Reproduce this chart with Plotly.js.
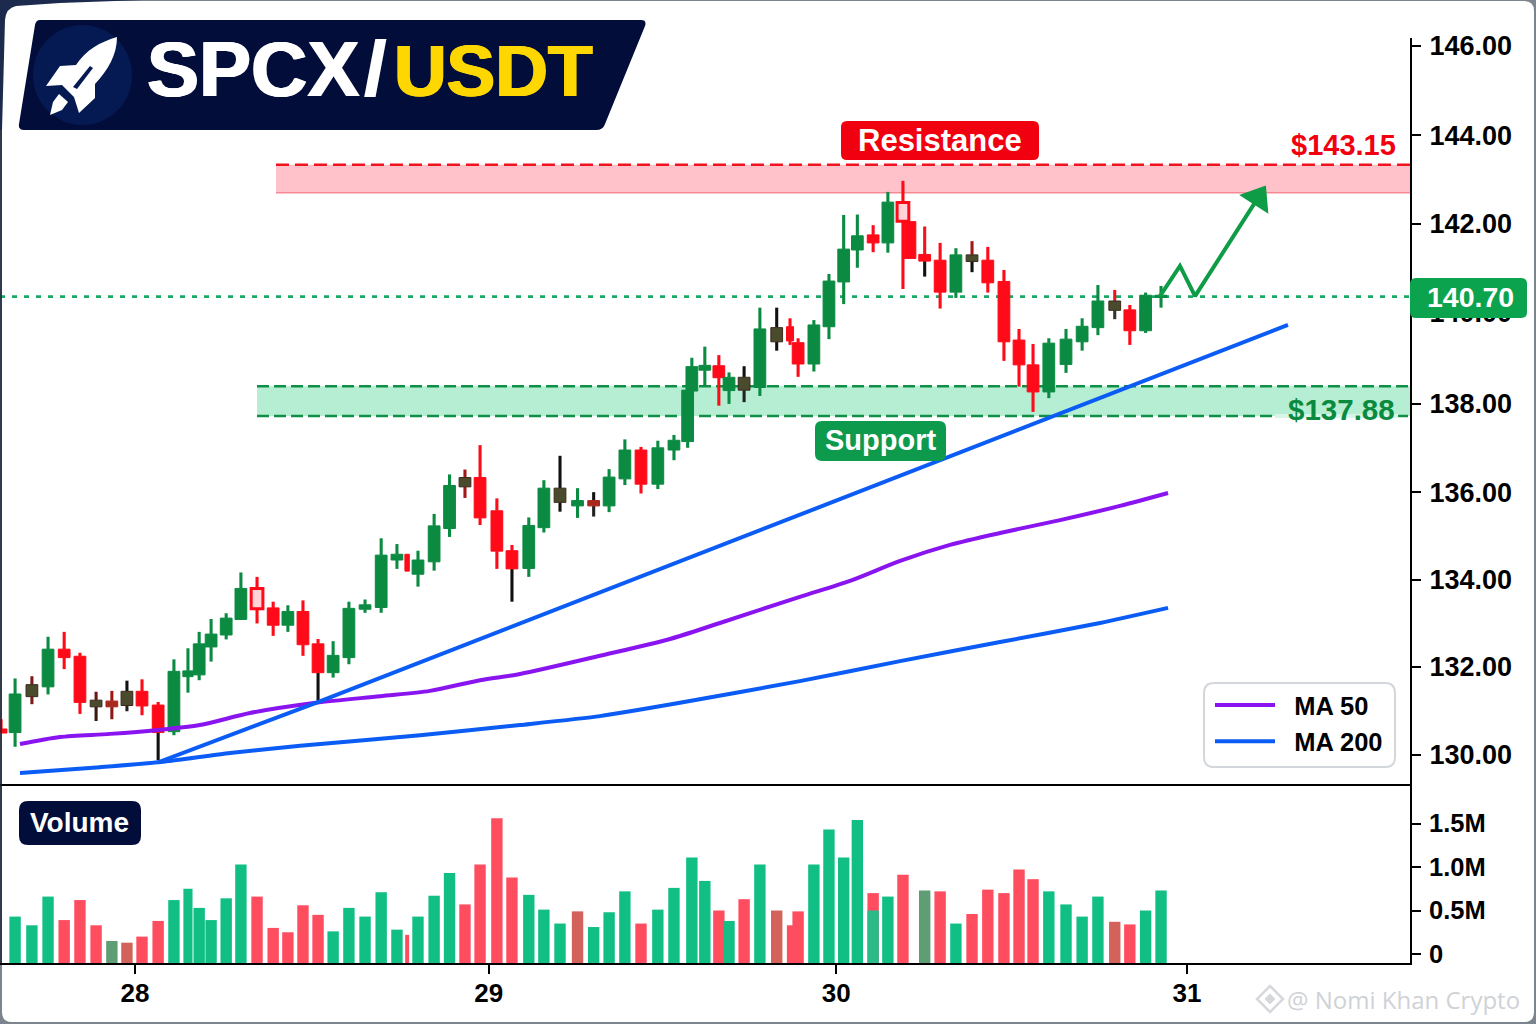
<!DOCTYPE html>
<html><head><meta charset="utf-8">
<script src="https://cdn.plot.ly/plotly-3.0.1.min.js"></script>
<style>html,body{margin:0;padding:0;background:#fff}#c{width:1536px;height:1024px}</style>
</head><body><div id="c"></div>
<script>
// ---- data ----
const candleTime = [27.618,27.658,27.706,27.752,27.798,27.843,27.889,27.934,27.977,28.020,
28.066,28.111,28.151,28.183,28.217,28.260,28.302,28.348,28.394,28.436,
28.479,28.522,28.565,28.610,28.656,28.702,28.747,28.776,28.807,28.853,
28.897,28.941,28.984,29.032,29.075,29.123,29.166,29.212,29.262,29.308,
29.352,29.397,29.443,29.491,29.537,29.576,29.588,29.625,29.665,29.694,
29.737,29.782,29.830,29.868,29.891,29.936,29.979,30.021,30.060,30.105,
30.147,30.190,30.210,30.252,30.296,30.341,30.387,30.432,30.478,30.521,
30.561,30.606,30.655,30.701,30.746,30.794,30.837,30.882,30.926];
const openPrice = [130.61,130.53,131.34,131.56,132.41,132.25,131.26,131.24,131.14,131.46,
131.15,130.55,131.79,131.83,132.46,132.73,133.08,133.78,133.34,132.95,
133.26,132.53,131.88,132.22,133.31,133.35,134.42,134.55,134.10,134.38,
135.13,136.28,136.28,135.53,134.63,134.23,135.15,136.04,135.64,135.76,
135.64,136.25,136.90,136.13,136.90,137.09,138.23,138.70,138.80,138.24,
138.54,138.31,139.66,139.68,139.32,138.84,139.68,140.69,141.41,141.75,
141.57,142.48,142.05,141.31,141.18,140.46,141.30,141.18,140.70,139.38,
138.82,138.21,138.83,139.34,139.66,140.26,140.06,139.59,140.34];
const highPrice = [130.83,131.75,131.80,132.69,132.80,132.33,131.45,131.47,131.70,131.73,
131.22,132.18,132.43,132.80,133.09,133.22,134.14,134.04,133.48,133.40,
133.51,132.64,132.59,133.48,133.53,134.91,134.78,134.55,134.63,135.46,
136.35,136.46,137.01,135.81,134.76,135.38,136.22,136.77,136.04,135.95,
136.47,137.14,136.97,137.11,137.24,138.25,138.98,139.23,139.04,138.65,
138.79,140.11,140.11,139.87,139.42,139.83,140.87,142.20,142.21,141.97,
142.72,142.97,142.05,141.94,141.57,141.45,141.61,141.48,140.96,139.63,
139.29,139.42,139.63,139.87,140.62,140.51,140.17,140.45,140.60];
const lowPrice = [130.52,130.21,131.17,131.39,131.96,130.95,130.79,130.83,131.01,130.92,
129.91,130.47,131.43,131.71,132.13,132.63,133.07,132.99,132.71,132.80,
132.26,131.25,131.77,132.07,133.23,133.23,134.22,134.17,133.82,134.18,
134.94,135.82,135.21,134.22,133.48,134.04,135.04,135.51,135.37,135.40,
135.50,136.11,135.92,136.02,136.67,136.95,138.23,138.33,137.90,137.94,
137.98,138.12,139.14,139.27,138.55,138.67,139.40,140.19,141.01,141.36,
141.35,140.53,141.22,140.81,140.09,140.33,140.91,140.45,138.91,138.33,
137.76,138.07,138.64,139.14,139.49,139.85,139.27,139.54,140.11];
const closePrice = [130.52,131.40,131.61,132.41,132.22,131.21,131.11,131.11,131.46,131.13,
130.53,131.91,131.92,132.53,132.75,133.11,133.78,133.32,132.95,133.26,
132.51,131.88,132.27,133.33,133.41,134.53,134.55,134.17,134.42,135.19,
136.10,136.07,135.37,134.62,134.22,135.20,136.04,135.72,135.76,135.64,
136.29,136.90,136.13,136.95,137.12,138.25,138.78,138.81,138.53,138.54,
138.25,139.63,139.34,139.36,138.84,139.72,140.71,141.43,141.73,141.57,
142.49,142.06,141.22,141.16,140.46,141.30,141.15,140.67,139.34,138.82,
138.21,139.31,139.40,139.69,140.26,140.05,139.59,140.39,140.39];
const volumeM = [null,.43,.33,.66,.39,.62,.33,.15,.13,.20,
.38,.62,.75,.53,.39,.64,1.03,.66,.30,.25,
.56,.45,.26,.53,.43,.71,.28,.22,.43,.67,
.93,.57,1.03,1.56,.88,.68,.51,.35,.49,.31,
.48,.72,.35,.51,.76,null,1.11,.84,.50,.38,
.63,1.03,.50,.33,.49,1.03,1.43,1.11,1.54,.70,
.66,.91,null,.73,.72,.35,.46,.74,.70,.97,
.86,.72,.57,.43,.66,.37,.34,.50,.73];
const overlayVolumeTime = [30.105];
const overlayVolumeM = [.50];
const ma50Time = [27.672,27.786,27.929,28.066,28.185,28.328,28.516,28.699,28.841,28.984,29.098,29.326,29.526,29.668,29.896,30.039,30.182,30.324,30.467,30.638,30.809,30.946];
const ma50Value = [130.27,130.43,130.50,130.59,130.70,130.97,131.20,131.35,131.47,131.71,131.85,132.26,132.64,133.00,133.59,133.95,134.40,134.76,135.03,135.32,135.64,135.93];
const ma200Time = [27.672,27.900,28.066,28.271,28.471,28.813,29.098,29.326,29.554,29.896,30.182,30.467,30.752,30.946];
const ma200Value = [129.62,129.75,129.86,130.07,130.23,130.47,130.70,130.90,131.20,131.69,132.14,132.57,133.00,133.34];
const trendTime = [28.066,28.516,31.288];
const trendValue = [129.86,131.20,139.72];
const forecastTime = [30.923,30.980,31.023,31.202];
const forecastValue = [140.37,141.05,140.37,142.58];
const resistanceZone = [142.70,143.33];
const supportZone = [137.67,138.34];
const lastPrice = 140.36;
const dayTicks = [28,29.009,30,31];
const dayLabels = ['28','29','30','31'];
const priceTicks = [130.03,132.01,133.97,135.95,137.94,140,142,144,146.02];
const priceLabels = ['130.00','132.00','134.00','136.00','138.00','140.00','142.00','144.00','146.00'];
const volumeTicks = [0,500000,1000000,1500000];
const volumeLabels = ['0','0.5M','1.0M','1.5M'];

// ---- styling ----
const W=1536,H=1024,FONT='"Liberation Sans",Arial,sans-serif';
const GREEN='#0b8a42',RED='#ff0a18',DARK='#4a4a2c';
const VG='#11bf85',VR='#ff4d60';
const darkBodies=[2,6,8,31,37,50,52,66,75], darkRedBodies=[7,39], paleBodies=[17,61];
const narrowBodies={12:.029,27:.0125,53:.02};
const upperWickOverride={2:'#7a1a1a',6:'#6a1a1a',7:'#a01818',8:'#111',31:'#a01818',37:'#111',39:'#111',50:'#111',52:'#111',63:'#f0141e',66:'#a01818',75:'#f0141e'};
const lowerWickOverride={2:'#7a1a1a',6:'#3a1a10',7:'#8a1a16',8:'#222',10:'#111',21:'#111',31:'#a01818',34:'#111',37:'#111',39:'#222',50:'#222',52:'#111',63:'#111',66:'#111',75:'#333'};
const darkGreenVol=[7,63], darkRedVol=[8,38,52,75], greenVol=[2,37,39], redVol=[6,19,31];

const isUp=i=>closePrice[i]>=openPrice[i];
const baseCol=i=>isUp(i)?GREEN:RED;
const bodyTop=i=>Math.max(openPrice[i],closePrice[i]);
const bodyBot=i=>Math.min(openPrice[i],closePrice[i]);
const idx=candleTime.map((_,i)=>i);
const bodyFill=idx.map(i=>darkBodies.includes(i)?DARK:darkRedBodies.includes(i)?'#a8281e':paleBodies.includes(i)?'#ffd3d8':baseCol(i));
const bodyLine=idx.map(i=>darkBodies.includes(i)?'#3a2a1c':darkRedBodies.includes(i)?'#a8281e':paleBodies.includes(i)?RED:baseCol(i));
const bodyLineW=idx.map(i=>paleBodies.includes(i)?3:1);
const bodyWidth=idx.map(i=>narrowBodies[i]||.0335);

const traces=[
 {type:'bar',name:'upper wick',x:candleTime,base:idx.map(bodyTop),y:idx.map(i=>highPrice[i]-bodyTop(i)),width:.0088,
  marker:{color:idx.map(i=>upperWickOverride[i]||baseCol(i)),line:{width:0}},xaxis:'x2',yaxis:'y',showlegend:false,hoverinfo:'skip'},
 {type:'bar',name:'lower wick',x:candleTime,base:idx.map(i=>lowPrice[i]),y:idx.map(i=>bodyBot(i)-lowPrice[i]),width:.0088,
  marker:{color:idx.map(i=>lowerWickOverride[i]||baseCol(i)),line:{width:0}},xaxis:'x2',yaxis:'y',showlegend:false,hoverinfo:'skip'},
 {type:'bar',name:'candle',x:candleTime,base:idx.map(bodyBot),y:idx.map(i=>bodyTop(i)-bodyBot(i)),width:bodyWidth,
  marker:{color:bodyFill,line:{color:bodyLine,width:bodyLineW}},xaxis:'x2',yaxis:'y',showlegend:false},
 {type:'scatter',mode:'lines',name:'\u00a0\u00a0MA 50',x:ma50Time,y:ma50Value,line:{color:'#8a14f0',width:4,shape:'spline',smoothing:.8},xaxis:'x2',yaxis:'y'},
 {type:'scatter',mode:'lines',name:'\u00a0\u00a0MA 200',x:ma200Time,y:ma200Value,line:{color:'#0b5cf5',width:4,shape:'spline',smoothing:.6},xaxis:'x2',yaxis:'y'},
 {type:'scatter',mode:'lines',name:'Trend',x:trendTime,y:trendValue,line:{color:'#0b5cf5',width:4},xaxis:'x2',yaxis:'y',showlegend:false},
 {type:'scatter',mode:'lines+markers',name:'Forecast',x:forecastTime,y:forecastValue,line:{color:'#0e9c47',width:4},
  marker:{symbol:'triangle-up',size:[0,0,0,30],color:'#0e9c47',opacity:1,angleref:'previous',line:{width:0}},xaxis:'x2',yaxis:'y',showlegend:false},
];
const volAxisMin=-103400;
const volTone=idx.map(i=>{
  if(darkGreenVol.includes(i)) return '#5f9d74';
  if(darkRedVol.includes(i)) return '#d2625a';
  if(greenVol.includes(i)) return VG;
  if(redVol.includes(i)) return VR;
  return isUp(i)?VG:VR;
});
traces.push({type:'bar',name:'Volume',x:candleTime,base:idx.map(()=>volAxisMin),
  y:volumeM.map(v=>v==null?null:v*1e6-volAxisMin),width:idx.map(i=>narrowBodies[i]?narrowBodies[i]*.9:.0325),
  marker:{color:volTone,line:{width:0}},xaxis:'x',yaxis:'y2',showlegend:false});
traces.push({type:'bar',name:'Volume overlap',x:overlayVolumeTime,base:overlayVolumeM.map(()=>volAxisMin),
  y:overlayVolumeM.map(v=>v*1e6-volAxisMin),width:.0325,marker:{color:'#2bbb8a',line:{width:0}},xaxis:'x',yaxis:'y2',showlegend:false});

// helpers: pixel positions of the decorations (not data)
const px=x=>x/W, py=y=>1-y/H;
const P=(x,y)=>`${px(x)},${py(y)}`;
function roundRect(x0,y0,x1,y1,r){
  return `M${P(x0+r,y0)} L${P(x1-r,y0)} Q${P(x1,y0)} ${P(x1,y0+r)} L${P(x1,y1-r)} Q${P(x1,y1)} ${P(x1-r,y1)} L${P(x0+r,y1)} Q${P(x0,y1)} ${P(x0,y1-r)} L${P(x0,y0+r)} Q${P(x0,y0)} ${P(x0+r,y0)} Z`;
}
const pathShape=(path,fill,line,lw,layer)=>({type:'path',xref:'paper',yref:'paper',path,fillcolor:fill,line:{color:line||fill,width:lw||0},layer:layer||'above'});

const xEdgeL=27.615,xEdgeR=31.636;
const shapes=[
 pathShape(roundRect(2,1,1534,1022,10),'#ffffff','#ffffff',0,'below'),
 pathShape(`M${P(0,0)} L${P(143,0)} L${P(60,3)} L${P(16,6)} Q${P(6,8)} ${P(5,20)} L${P(2,130)} L${P(0,130)} Z`,'#1c2b4d','#1c2b4d',0,'below'),
 {type:'rect',xref:'x2',yref:'y',x0:28.402,x1:xEdgeR,y0:resistanceZone[0],y1:resistanceZone[1],fillcolor:'#ffc2ca',line:{width:0},layer:'below'},
 {type:'line',xref:'x2',yref:'y',x0:28.402,x1:xEdgeR,y0:resistanceZone[1],y1:resistanceZone[1],line:{color:'#f0131f',width:2.5,dash:'13px,6px'},layer:'below'},
 {type:'line',xref:'x2',yref:'y',x0:28.402,x1:xEdgeR,y0:resistanceZone[0],y1:resistanceZone[0],line:{color:'#f58a95',width:1.5},layer:'below'},
 {type:'rect',xref:'x2',yref:'y',x0:28.348,x1:xEdgeR,y0:supportZone[0],y1:supportZone[1],fillcolor:'#b5eed3',line:{width:0},layer:'below'},
 {type:'line',xref:'x2',yref:'y',x0:28.348,x1:xEdgeR,y0:supportZone[1],y1:supportZone[1],line:{color:'#0f8f45',width:2.5,dash:'12px,5px'},layer:'below'},
 {type:'line',xref:'x2',yref:'y',x0:28.348,x1:xEdgeR,y0:supportZone[0],y1:supportZone[0],line:{color:'#0f8f45',width:2.5,dash:'12px,5px'},layer:'below'},
 {type:'rect',xref:'x2',yref:'y',x0:31.251,x1:31.602,y0:137.62,y1:137.71,fillcolor:'#d8f5e7',line:{width:0},layer:'below'},
 {type:'line',xref:'x2',yref:'y',x0:xEdgeL,x1:xEdgeR,y0:lastPrice,y1:lastPrice,line:{color:'#1aa864',width:2.8,dash:'5px,7px'},layer:'below'},
 {type:'line',xref:'paper',yref:'paper',x0:px(1),x1:px(1),y0:py(130),y1:py(963),line:{color:'#1a2030',width:1.5},layer:'above'},
 // header badge
 pathShape(`M${P(40,20)} L${P(641,20)} Q${P(647,20)} ${P(645,26)} L${P(605,124)} Q${P(603,130)} ${P(596,130)} L${P(24,130)} Q${P(18,130)} ${P(19,124)} L${P(35,25)} Q${P(36,20)} ${P(40,20)} Z`,'#020d3a'),
 {type:'circle',xref:'paper',yref:'paper',x0:px(33),x1:px(132),y0:py(125),y1:py(25),fillcolor:'#051a52',line:{width:0},layer:'above'},
 pathShape(`M${P(117,37)} C${P(100,42)} ${P(86,50)} ${P(76,65)} L${P(60,66)} L${P(46,86)} L${P(62,85)} L${P(74,97)} L${P(79,113)} L${P(95,98)} L${P(95,84)} C${P(108,70)} ${P(117,55)} ${P(117,37)} Z`,'#ffffff'),
 pathShape(`M${P(50,115)} L${P(53,102)} L${P(59,94)} L${P(68,102)} L${P(62,110)} Z`,'#ffffff'),
 pathShape(`M${P(90,66)} L${P(93,68)} L${P(77,89)} L${P(73,87)} Z`,'#051a52'),
 // labels
 pathShape(roundRect(841,121,1039,160,6),'#f1000f'),
 pathShape(roundRect(815,421,946,461,7),'#0d9a4d'),
 pathShape(roundRect(1410,278,1527,318,6),'#0ca34e'),
 pathShape(roundRect(19,801,141,845,9),'#020d3a'),
 // legend frame
 pathShape(roundRect(1204,683,1395,767,10),'#ffffff','#d3d7dc',2),
 // watermark mark
 pathShape(`M${P(1270,986)} L${P(1283,999)} L${P(1270,1012)} L${P(1257,999)} Z`,'rgba(0,0,0,0)','#d6d8dc',2.5),
 pathShape(`M${P(1270,994)} L${P(1275,999)} L${P(1270,1004)} L${P(1265,999)} Z`,'#d6d8dc','#d6d8dc',1),
];
const note=(text,x,y,size,color,anchor,extra)=>Object.assign({text,xref:'paper',yref:'paper',x:px(x),y:py(y),xanchor:anchor||'center',yanchor:'middle',showarrow:false,
  font:{family:FONT,size,color,weight:700}},extra||{});
const heavyWhite='text-shadow:1px 0 0 #ffffff,-1px 0 0 #ffffff';
const heavyYellow='text-shadow:1px 0 0 #ffd700,-1px 0 0 #ffd700';
const annotations=[
 note(`<span style="${heavyWhite}">SPCX</span><span style="font-size:18px">\u00a0</span><span style="${heavyWhite}">/</span><span style="font-size:28px">\u00a0</span><span style="color:#ffd700;font-size:73px;${heavyYellow}">USDT</span>`,145,69,78,'#ffffff','left'),
 note('Resistance',940,140,31,'#ffffff'),
 note('Support',880,440,29,'#ffffff'),
 note('$143.15',1398,145,29,'#f1000f','right'),
 note('$137.88',1397,409,29.5,'#0a8a3e','right'),
 note('140.70',1470,297,28.5,'#ffffff'),
 note('Volume',79,822,28,'#ffffff'),
 note('@ Nomi Khan Crypto',1522,999,24,'#cfd2d6','right',{font:{family:'"Open Sans",sans-serif',size:24,color:'#cfd2d6',weight:400}}),
];
const layout={
 width:W,height:H,margin:{l:0,r:0,t:0,b:0},paper_bgcolor:'#7c848e',plot_bgcolor:'rgba(0,0,0,0)',
 barmode:'overlay',font:{family:FONT,color:'#000'},
 xaxis:{domain:[0,1410/W],range:[xEdgeL,xEdgeR],anchor:'y2',showgrid:false,zeroline:false,showline:true,linecolor:'#000',linewidth:2,
  tickmode:'array',tickvals:dayTicks,ticktext:dayLabels,ticks:'outside',ticklen:9,tickwidth:2,tickcolor:'#000',
  tickfont:{family:FONT,size:26,color:'#000',weight:700},ticklabelstandoff:-3},
 xaxis2:{domain:[0,1410/W],matches:'x',anchor:'y',showgrid:false,zeroline:false,showline:true,linecolor:'#000',linewidth:2,showticklabels:false,ticks:''},
 yaxis:{domain:[240/H,(H-38)/H],range:[129.37,146.19],side:'right',anchor:'x2',showgrid:false,zeroline:false,showline:true,linecolor:'#000',linewidth:2,
  tickmode:'array',tickvals:priceTicks,ticktext:priceLabels,ticks:'outside',ticklen:9,tickwidth:2,tickcolor:'#000',
  tickfont:{family:FONT,size:27,color:'#000',weight:700},ticklabelstandoff:3},
 yaxis2:{domain:[61/H,240/H],range:[volAxisMin,1954000],side:'right',anchor:'x',showgrid:false,zeroline:false,showline:true,linecolor:'#000',linewidth:2,
  tickmode:'array',tickvals:volumeTicks,ticktext:volumeLabels,ticks:'outside',ticklen:9,tickwidth:2,tickcolor:'#000',
  tickfont:{family:FONT,size:25.5,color:'#000',weight:700},ticklabelstandoff:3},
 showlegend:true,
 legend:{x:1210/W,y:py(682),xanchor:'left',yanchor:'top',bgcolor:'rgba(0,0,0,0)',borderwidth:0,itemwidth:60,traceorder:'normal',
  font:{family:FONT,size:25.5,color:'#000',weight:700}},
 shapes,annotations
};
Plotly.newPlot('c',traces,layout,{staticPlot:true,displayModeBar:false});
</script></body></html>
